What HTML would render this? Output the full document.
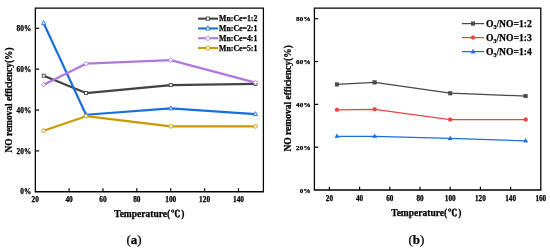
<!DOCTYPE html>
<html><head><meta charset="utf-8"><title>figure</title>
<style>html,body{margin:0;padding:0;background:#fff;}svg{display:block;}text{font-family:"Liberation Serif", "Noto Serif CJK SC", serif;font-weight:bold;fill:#000;stroke:#000;stroke-width:0.25px;}</style></head>
<body>
<svg width="550" height="250" viewBox="0 0 550 250">
<rect width="550" height="250" fill="#fff"/>
<g id="a">
<polyline points="43.67,75.70 86.02,93.07 170.72,85.10 255.42,83.88" fill="none" stroke="#424242" stroke-width="2.2" stroke-linejoin="round"/>
<rect x="42.17" y="74.20" width="3.00" height="3.00" fill="#fff" stroke="#424242" stroke-width="0.9"/>
<rect x="84.52" y="91.57" width="3.00" height="3.00" fill="#fff" stroke="#424242" stroke-width="0.9"/>
<rect x="169.22" y="83.60" width="3.00" height="3.00" fill="#fff" stroke="#424242" stroke-width="0.9"/>
<rect x="253.92" y="82.38" width="3.00" height="3.00" fill="#fff" stroke="#424242" stroke-width="0.9"/>
<polyline points="43.67,23.17 86.02,114.74 170.72,108.40 255.42,114.13" fill="none" stroke="#1A6FDF" stroke-width="2.2" stroke-linejoin="round"/>
<polygon points="43.67,20.76 45.77,24.64 41.57,24.64" fill="#fff" stroke="#1A6FDF" stroke-width="0.9"/>
<polygon points="86.02,112.33 88.12,116.21 83.92,116.21" fill="#fff" stroke="#1A6FDF" stroke-width="0.9"/>
<polygon points="170.72,105.99 172.82,109.87 168.62,109.87" fill="#fff" stroke="#1A6FDF" stroke-width="0.9"/>
<polygon points="255.42,111.71 257.52,115.60 253.32,115.60" fill="#fff" stroke="#1A6FDF" stroke-width="0.9"/>
<polyline points="43.67,84.69 86.02,63.64 170.72,60.17 255.42,82.65" fill="none" stroke="#B177DE" stroke-width="2.2" stroke-linejoin="round"/>
<polygon points="43.67,82.39 45.97,84.69 43.67,86.99 41.37,84.69" fill="#fff" stroke="#B177DE" stroke-width="0.9"/>
<polygon points="86.02,61.34 88.32,63.64 86.02,65.94 83.72,63.64" fill="#fff" stroke="#B177DE" stroke-width="0.9"/>
<polygon points="170.72,57.87 173.02,60.17 170.72,62.47 168.42,60.17" fill="#fff" stroke="#B177DE" stroke-width="0.9"/>
<polygon points="255.42,80.35 257.72,82.65 255.42,84.95 253.12,82.65" fill="#fff" stroke="#B177DE" stroke-width="0.9"/>
<polyline points="43.67,130.68 86.02,116.17 170.72,126.39 255.42,126.39" fill="none" stroke="#CC9900" stroke-width="2.2" stroke-linejoin="round"/>
<circle cx="43.67" cy="130.68" r="1.85" fill="#fff" stroke="#CC9900" stroke-width="0.9"/>
<circle cx="86.02" cy="116.17" r="1.85" fill="#fff" stroke="#CC9900" stroke-width="0.9"/>
<circle cx="170.72" cy="126.39" r="1.85" fill="#fff" stroke="#CC9900" stroke-width="0.9"/>
<circle cx="255.42" cy="126.39" r="1.85" fill="#fff" stroke="#CC9900" stroke-width="0.9"/>
<path d="M35.35 191.80V8.20H263.40V191.80" fill="none" stroke="#000" stroke-width="1.25" stroke-linejoin="miter"/>
<line x1="34.73" y1="191.80" x2="264.02" y2="191.80" stroke="#000" stroke-width="1.4"/>
<text x="31.2" y="194.40" font-size="7.3" text-anchor="end">0%</text>
<line x1="35.35" y1="150.92" x2="39.15" y2="150.92" stroke="#000" stroke-width="1.2"/>
<text x="31.2" y="153.52" font-size="7.3" text-anchor="end">20%</text>
<line x1="35.35" y1="110.04" x2="39.15" y2="110.04" stroke="#000" stroke-width="1.2"/>
<text x="31.2" y="112.64" font-size="7.3" text-anchor="end">40%</text>
<line x1="35.35" y1="69.16" x2="39.15" y2="69.16" stroke="#000" stroke-width="1.2"/>
<text x="31.2" y="71.76" font-size="7.3" text-anchor="end">60%</text>
<line x1="35.35" y1="28.28" x2="39.15" y2="28.28" stroke="#000" stroke-width="1.2"/>
<text x="31.2" y="30.88" font-size="7.3" text-anchor="end">80%</text>
<text x="35.20" y="201.5" font-size="7.3" text-anchor="middle">20</text>
<line x1="69.08" y1="191.80" x2="69.08" y2="188.20" stroke="#000" stroke-width="1.2"/>
<text x="69.08" y="201.5" font-size="7.3" text-anchor="middle">40</text>
<line x1="102.96" y1="191.80" x2="102.96" y2="188.20" stroke="#000" stroke-width="1.2"/>
<text x="102.96" y="201.5" font-size="7.3" text-anchor="middle">60</text>
<line x1="136.84" y1="191.80" x2="136.84" y2="188.20" stroke="#000" stroke-width="1.2"/>
<text x="136.84" y="201.5" font-size="7.3" text-anchor="middle">80</text>
<line x1="170.72" y1="191.80" x2="170.72" y2="188.20" stroke="#000" stroke-width="1.2"/>
<text x="170.72" y="201.5" font-size="7.3" text-anchor="middle">100</text>
<line x1="204.60" y1="191.80" x2="204.60" y2="188.20" stroke="#000" stroke-width="1.2"/>
<text x="204.60" y="201.5" font-size="7.3" text-anchor="middle">120</text>
<line x1="238.48" y1="191.80" x2="238.48" y2="188.20" stroke="#000" stroke-width="1.2"/>
<text x="238.48" y="201.5" font-size="7.3" text-anchor="middle">140</text>
<text transform="translate(11.6,99.95) rotate(-90)" font-size="9.4" text-anchor="middle">NO removal efficiency(%)</text>
<text x="114.2" y="217" font-size="9.5">Temperature(<tspan dx="0.6" style="stroke-width:0.45px">℃</tspan><tspan dx="1.0">)</tspan></text>
<line x1="198.1" y1="18.65" x2="218.0" y2="18.65" stroke="#424242" stroke-width="2.1"/>
<rect x="206.28" y="17.03" width="3.24" height="3.24" fill="#fff" stroke="#424242" stroke-width="0.9"/>
<text x="219.1" y="21.45" font-size="7.8">Mn:Ce=1:2</text>
<line x1="198.1" y1="28.45" x2="218.0" y2="28.45" stroke="#1A6FDF" stroke-width="2.1"/>
<polygon points="207.90,25.84 210.17,30.04 205.63,30.04" fill="#fff" stroke="#1A6FDF" stroke-width="0.9"/>
<text x="219.1" y="31.25" font-size="7.8">Mn:Ce=2:1</text>
<line x1="198.1" y1="38.25" x2="218.0" y2="38.25" stroke="#B177DE" stroke-width="2.1"/>
<polygon points="207.90,35.77 210.38,38.25 207.90,40.73 205.42,38.25" fill="#fff" stroke="#B177DE" stroke-width="0.9"/>
<text x="219.1" y="41.05" font-size="7.8">Mn:Ce=4:1</text>
<line x1="198.1" y1="48.05" x2="218.0" y2="48.05" stroke="#CC9900" stroke-width="2.1"/>
<circle cx="207.90" cy="48.05" r="2.00" fill="#fff" stroke="#CC9900" stroke-width="0.9"/>
<text x="219.1" y="50.85" font-size="7.8">Mn:Ce=5:1</text>
<text x="134.1" y="243.6" font-size="13" text-anchor="middle" style="font-weight:normal">(<tspan style="font-weight:bold">a</tspan>)</text>
</g>
<g id="b">
<polyline points="336.95,84.45 374.70,82.31 450.20,93.23 525.70,96.01" fill="none" stroke="#484848" stroke-width="1.25" stroke-linejoin="round"/>
<rect x="335.07" y="82.57" width="3.75" height="3.75" fill="#484848" stroke="#484848" stroke-width="0.3"/>
<rect x="372.82" y="80.43" width="3.75" height="3.75" fill="#484848" stroke="#484848" stroke-width="0.3"/>
<rect x="448.32" y="91.35" width="3.75" height="3.75" fill="#484848" stroke="#484848" stroke-width="0.3"/>
<rect x="523.83" y="94.14" width="3.75" height="3.75" fill="#484848" stroke="#484848" stroke-width="0.3"/>
<polyline points="336.95,109.82 374.70,109.28 450.20,119.56 525.70,119.56" fill="none" stroke="#F14040" stroke-width="1.25" stroke-linejoin="round"/>
<circle cx="336.95" cy="109.82" r="2.00" fill="#F14040" stroke="#F14040" stroke-width="0.3"/>
<circle cx="374.70" cy="109.28" r="2.00" fill="#F14040" stroke="#F14040" stroke-width="0.3"/>
<circle cx="450.20" cy="119.56" r="2.00" fill="#F14040" stroke="#F14040" stroke-width="0.3"/>
<circle cx="525.70" cy="119.56" r="2.00" fill="#F14040" stroke="#F14040" stroke-width="0.3"/>
<polyline points="336.95,136.26 374.70,136.26 450.20,138.40 525.70,140.76" fill="none" stroke="#1A6FDF" stroke-width="1.25" stroke-linejoin="round"/>
<polygon points="336.95,133.73 339.15,137.80 334.75,137.80" fill="#1A6FDF" stroke="#1A6FDF" stroke-width="0.3"/>
<polygon points="374.70,133.73 376.90,137.80 372.50,137.80" fill="#1A6FDF" stroke="#1A6FDF" stroke-width="0.3"/>
<polygon points="450.20,135.87 452.40,139.95 448.00,139.95" fill="#1A6FDF" stroke="#1A6FDF" stroke-width="0.3"/>
<polygon points="525.70,138.22 527.91,142.30 523.50,142.30" fill="#1A6FDF" stroke="#1A6FDF" stroke-width="0.3"/>
<path d="M314.40 190.00V8.20H540.80V190.00" fill="none" stroke="#000" stroke-width="1.25" stroke-linejoin="miter"/>
<line x1="313.78" y1="190.00" x2="541.42" y2="190.00" stroke="#000" stroke-width="1.4"/>
<text x="310.8" y="192.50" font-size="7.1" text-anchor="end" letter-spacing="0.2">0%</text>
<line x1="314.40" y1="147.18" x2="318.20" y2="147.18" stroke="#000" stroke-width="1.2"/>
<text x="310.8" y="149.68" font-size="7.1" text-anchor="end" letter-spacing="0.2">20%</text>
<line x1="314.40" y1="104.36" x2="318.20" y2="104.36" stroke="#000" stroke-width="1.2"/>
<text x="310.8" y="106.86" font-size="7.1" text-anchor="end" letter-spacing="0.2">40%</text>
<line x1="314.40" y1="61.54" x2="318.20" y2="61.54" stroke="#000" stroke-width="1.2"/>
<text x="310.8" y="64.04" font-size="7.1" text-anchor="end" letter-spacing="0.2">60%</text>
<line x1="314.40" y1="18.72" x2="318.20" y2="18.72" stroke="#000" stroke-width="1.2"/>
<text x="310.8" y="21.22" font-size="7.1" text-anchor="end" letter-spacing="0.2">80%</text>
<line x1="329.40" y1="190.00" x2="329.40" y2="186.80" stroke="#000" stroke-width="1.2"/>
<text x="329.40" y="200.5" font-size="7.2" text-anchor="middle">20</text>
<line x1="359.60" y1="190.00" x2="359.60" y2="186.80" stroke="#000" stroke-width="1.2"/>
<text x="359.60" y="200.5" font-size="7.2" text-anchor="middle">40</text>
<line x1="389.80" y1="190.00" x2="389.80" y2="186.80" stroke="#000" stroke-width="1.2"/>
<text x="389.80" y="200.5" font-size="7.2" text-anchor="middle">60</text>
<line x1="420.00" y1="190.00" x2="420.00" y2="186.80" stroke="#000" stroke-width="1.2"/>
<text x="420.00" y="200.5" font-size="7.2" text-anchor="middle">80</text>
<line x1="450.20" y1="190.00" x2="450.20" y2="186.80" stroke="#000" stroke-width="1.2"/>
<text x="450.20" y="200.5" font-size="7.2" text-anchor="middle">100</text>
<line x1="480.40" y1="190.00" x2="480.40" y2="186.80" stroke="#000" stroke-width="1.2"/>
<text x="480.40" y="200.5" font-size="7.2" text-anchor="middle">120</text>
<line x1="510.60" y1="190.00" x2="510.60" y2="186.80" stroke="#000" stroke-width="1.2"/>
<text x="510.60" y="200.5" font-size="7.2" text-anchor="middle">140</text>
<text x="540.80" y="200.5" font-size="7.2" text-anchor="middle">160</text>
<text transform="translate(291.3,98.4) rotate(-90)" font-size="9.5" text-anchor="middle">NO removal efficiency(%)</text>
<text x="391.2" y="216" font-size="9.5">Temperature(<tspan dx="0.6" style="stroke-width:0.45px">℃</tspan><tspan dx="1.0">)</tspan></text>
<line x1="462" y1="23.60" x2="484" y2="23.60" stroke="#484848" stroke-width="1.25"/>
<rect x="471.12" y="21.73" width="3.75" height="3.75" fill="#484848" stroke="#484848" stroke-width="0.3"/>
<text x="486" y="26.80" font-size="9.6">O<tspan font-size="5.8" dy="1.8">3</tspan><tspan dy="-1.8">/NO=1:2</tspan></text>
<line x1="462" y1="37.60" x2="484" y2="37.60" stroke="#F14040" stroke-width="1.25"/>
<circle cx="473.00" cy="37.60" r="2.00" fill="#F14040" stroke="#F14040" stroke-width="0.3"/>
<text x="486" y="40.80" font-size="9.6">O<tspan font-size="5.8" dy="1.8">3</tspan><tspan dy="-1.8">/NO=1:3</tspan></text>
<line x1="462" y1="51.60" x2="484" y2="51.60" stroke="#1A6FDF" stroke-width="1.25"/>
<polygon points="473.00,49.06 475.20,53.14 470.80,53.14" fill="#1A6FDF" stroke="#1A6FDF" stroke-width="0.3"/>
<text x="486" y="54.80" font-size="9.6">O<tspan font-size="5.8" dy="1.8">3</tspan><tspan dy="-1.8">/NO=1:4</tspan></text>
<text x="416.4" y="243.6" font-size="13" text-anchor="middle" style="font-weight:normal">(<tspan style="font-weight:bold">b</tspan>)</text>
</g>
</svg>
</body></html>
